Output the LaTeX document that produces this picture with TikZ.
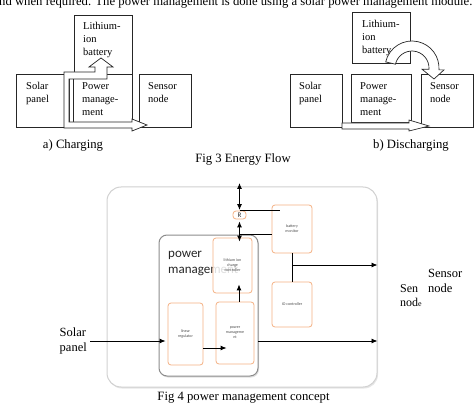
\documentclass[tikz,border=0pt]{standalone}
\usepackage{fontspec}
\setmainfont{Liberation Serif}
\newfontfamily\calibri{Carlito}
\usepackage{tikz}
\usetikzlibrary{positioning, arrows.meta, shadows}
\definecolor{boxorange}{RGB}{244,177,131}

\begin{document}
\begin{tikzpicture}[x=1pt,y=1pt]
\tikzstyle{block}=[draw=black!85,line width=0.7pt,inner sep=0pt,outer sep=0pt]
\tikzstyle{lbl}=[anchor=north west,inner sep=0pt,align=left,font=\fontsize{10.5}{13}\selectfont]
\tikzstyle{hollow}=[draw=black!85,line width=0.7pt,fill=white]
\tikzstyle{figcap}=[inner sep=0pt,font=\fontsize{12.7}{15}\selectfont]
\tikzstyle{unitbox}=[draw=boxorange,line width=0.8pt,rounded corners=3pt,fill=white,inner sep=0pt,align=center,font=\calibri\fontsize{4}{5}\selectfont,text=black!70]
\tikzstyle{wire}=[line width=0.9pt]
\tikzstyle{arr}=[line width=0.9pt,-{Latex[length=6pt,width=5pt]}]
\tikzstyle{darr}=[line width=0.9pt,{Latex[length=6pt,width=5pt]}-{Latex[length=6pt,width=5pt]}]
\useasboundingbox (0,0) rectangle (474,405);

\node[figcap,anchor=base west] (intro) at (-1,399) {nd when required. The power management is done using a solar power management module.};

% a) charging
\node[block,minimum width=58,minimum height=59] (batA) at (103,360.5) {};
\node[block,minimum width=53,minimum height=53] (solA) at (42.5,304.5) {};
\node[block,minimum width=59,minimum height=48] (pmA) at (102.5,307) {};
\node[block,minimum width=52,minimum height=53] (senA) at (165,304.5) {};
\node[lbl] at ([shift={(9,-7)}]batA.north west) {Lithium-\\ion\\battery};
\node[lbl] at ([shift={(10,-8)}]solA.north west) {Solar\\panel};
\node[lbl] at ([shift={(9,-8)}]pmA.north west) {Power\\manage-\\ment};
\node[lbl] at ([shift={(9,-8)}]senA.north west) {Sensor\\node};
\draw[hollow] (64,333) -- (95,333) -- (95,338) -- (89,338) -- (101,347) -- (113,338) -- (107,338) -- (107,326) -- (69,326) -- (69,283) -- (132,283) -- (132,286) -- (147,280) -- (132,274) -- (132,277) -- (64,277) -- cycle;
\node[figcap] (capA) at (73,260) {a) Charging};

% b) discharging
\node[block,minimum width=58,minimum height=51] (batB) at (381,367.5) {};
\node[block,minimum width=52,minimum height=53] (solB) at (316,304.5) {};
\node[block,minimum width=60,minimum height=48] (pmB) at (381,307) {};
\node[block,minimum width=52,minimum height=53] (senB) at (447,304.5) {};
\node[lbl] at ([shift={(10,-8)}]batB.north west) {Lithium-\\ion\\battery};
\node[lbl] at ([shift={(9,-8)}]solB.north west) {Solar\\panel};
\node[lbl] at ([shift={(9,-8)}]pmB.north west) {Power\\manage-\\ment};
\node[lbl] at ([shift={(9,-8)}]senB.north west) {Sensor\\node};
\draw[hollow] (342,282) -- (409,282) -- (409,285) -- (429,279) -- (409,274) -- (409,276) -- (342,276) -- cycle;
\draw[hollow] (412,337) ++(167:27) arc (167:-4:27) -- (444,335.1) -- (434,326) -- (422,335.8) -- (428.96,335.8) arc (-4:167:17) -- cycle;
\node[figcap] (capB) at (411,260) {b) Discharging};

\node[figcap] (fig3) at (243,246) {Fig 3 Energy Flow};

% fig 4
\node[draw=black!18,line width=1pt,rounded corners=14pt,fill=white,drop shadow={opacity=0.2,shadow xshift=1pt,shadow yshift=-1.5pt},minimum width=270,minimum height=200] (outer) at (242,118) {};
\node[draw=black!45,line width=1pt,rounded corners=8pt,fill=white,drop shadow={opacity=0.25,shadow xshift=1pt,shadow yshift=-1.5pt},minimum width=99,minimum height=141] (pmbox) at (208.5,99.5) {};
\node[anchor=base west,inner sep=0pt,font=\calibri\fontsize{13}{15}\selectfont,text=black!85] (pmword1) at (168,148) {power};
\node[anchor=base west,inner sep=0pt,font=\calibri\fontsize{13}{15}\selectfont,text=black!85] (pmword2) at (168,132) {management};
\node[unitbox,minimum width=39,minimum height=55,fill opacity=0.85,text opacity=1] (lic) at (232.5,139.5) {lithium ion\\charge\\controller};
\node[unitbox,minimum width=13,minimum height=8,font=\calibri\fontsize{7}{7}\selectfont,text=black!80] (R) at (239.5,190) {R};
\node[unitbox,minimum width=40,minimum height=48] (bm) at (292,176) {battery\\monitor};
\node[unitbox,minimum width=40,minimum height=45] (io) at (292,100.5) {IO controller};
\node[unitbox,minimum width=35,minimum height=62] (lr) at (185.5,71) {linear\\regulator};
\node[unitbox,minimum width=38,minimum height=62] (pmm) at (235,72) {power\\manageme\\nt};

\node[anchor=east,inner sep=0pt,align=left,font=\fontsize{12.5}{15}\selectfont] (solar4) at (87,64.5) {Solar\\panel};
\node[anchor=west,inner sep=0pt,align=left,font=\fontsize{12.5}{15}\selectfont] (sensor4) at (428,124.5) {Sensor\\node};
\node[anchor=west,inner sep=0pt,align=left,font=\fontsize{12}{14}\selectfont] (sen4) at (400,109) {Sen\\nod{\fontsize{8}{8}\selectfont e}};

\coordinate (top) at (239.5,222);
\coordinate (rtap) at (239.5,195);
\coordinate (ltap) at (239.5,171);
\coordinate (iotap) at (292,140);
\coordinate (sp) at (90,64);
\coordinate (upx) at (239,0);
\draw[darr] (top) -- (rtap);
\draw[wire,shorten >=-8pt] (rtap) -- (bm.west |- rtap);
\draw[darr,shorten <=2pt,shorten >=-4pt] (R.south) -- (R.south |- lic.north);
\draw[wire] (ltap) -- (bm.west |- ltap);
\draw[wire] (bm.south) -- (io.north);
\draw[arr] (iotap) -- (outer.east |- iotap);
\draw[arr,shorten >=2pt] (sp) -- (lr.west |- sp);
\draw[arr] (lr.east |- 0,57) -- ([xshift=11pt]pmm.west |- 0,57);
\draw[arr] (pmm.north -| upx) -- ([yshift=9pt]lic.south -| upx);
\draw[arr] ([xshift=4pt]pmm.east |- sp) -- (outer.east |- sp);

\node[figcap] (fig4) at (243.5,7) {Fig 4 power management concept};
\end{tikzpicture}
\end{document}
